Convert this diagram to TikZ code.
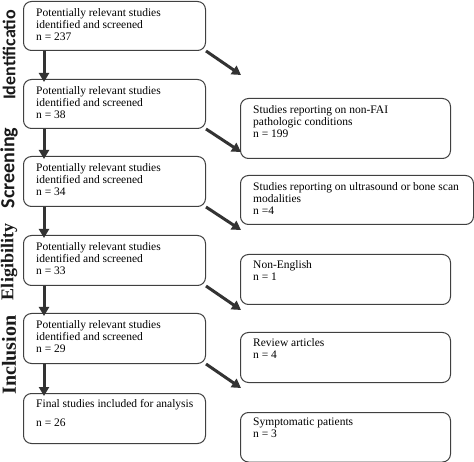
\documentclass[tikz,border=0pt]{standalone}
\usepackage{fontspec}
\setmainfont{Liberation Serif}
\newfontfamily\sidesans{Carlito}
\usetikzlibrary{arrows.meta}
\begin{document}
\begin{tikzpicture}[x=1pt,y=-1pt,
  box/.style={draw=black!75, line width=1pt, rounded corners=8pt, inner sep=0pt},
  txt/.style={anchor=north west, inner sep=0pt, align=left, font=\fontsize{11.5}{12}\selectfont, text=black},
  arr/.style={draw=black!80, line width=3pt, -{Triangle[length=9pt,width=10pt]}},
  sidelab/.style={rotate=90, inner sep=0pt, text=black!90}
]
\useasboundingbox (0,0) rectangle (474,462);
\fill[white] (0,0) rectangle (474,462);

% left boxes
\node[box, minimum width=182pt, minimum height=49pt, anchor=north west] (b1) at (23,1) {};
\node[box, minimum width=182pt, minimum height=49pt, anchor=north west] (b2) at (23,79) {};
\node[box, minimum width=182pt, minimum height=50pt, anchor=north west] (b3) at (23,156) {};
\node[box, minimum width=182pt, minimum height=50pt, anchor=north west] (b4) at (23,235) {};
\node[box, minimum width=182pt, minimum height=50pt, anchor=north west] (b5) at (23,313) {};
\node[box, minimum width=182pt, minimum height=50pt, anchor=north west] (b6) at (23,393) {};

\node[txt] (t1) at (36,8) {Potentially relevant studies\\identified and screened\\n = 237};
\node[txt] (t2) at (36,86) {Potentially relevant studies\\identified and screened\\n = 38};
\node[txt] (t3) at (36,163) {Potentially relevant studies\\identified and screened\\n = 34};
\node[txt] (t4) at (36,242) {Potentially relevant studies\\identified and screened\\n = 33};
\node[txt] (t5) at (36,320) {Potentially relevant studies\\identified and screened\\n = 29};
\node[txt] (t6) at (36,399) {Final studies included for analysis\\[7pt]n = 26};

% right boxes
\node[box, minimum width=210pt, minimum height=60pt, anchor=north west] (r1) at (240,98) {};
\node[box, minimum width=233pt, minimum height=49pt, anchor=north west] (r2) at (240,175) {};
\node[box, minimum width=210pt, minimum height=50pt, anchor=north west] (r3) at (240,254) {};
\node[box, minimum width=210pt, minimum height=50pt, anchor=north west] (r4) at (240,332) {};
\node[box, minimum width=210pt, minimum height=49.5pt, anchor=north west] (r5) at (240,412) {};

\node[txt] (s1) at (253,105) {Studies reporting on non-FAI\\pathologic conditions\\n = 199};
\node[txt] (s2) at (253,182) {Studies reporting on ultrasound or bone scan\\modalities\\n =4};
\node[txt] (s3) at (253,260) {Non-English\\n = 1};
\node[txt] (s4) at (253,338) {Review articles\\n = 4};
\node[txt] (s5) at (253,418) {Symptomatic patients\\n = 3};

% down arrows
\draw[arr] ([xshift=21pt]b1.south west) -- ([xshift=21pt,yshift=-3pt]b2.north west);
\draw[arr] ([xshift=21pt]b2.south west) -- ([xshift=21pt,yshift=-3pt]b3.north west);
\draw[arr] ([xshift=21pt]b3.south west) -- ([xshift=21pt,yshift=-3pt]b4.north west);
\draw[arr] ([xshift=21pt]b4.south west) -- ([xshift=21pt,yshift=-3pt]b5.north west);
\draw[arr] ([xshift=21pt]b5.south west) -- ([xshift=21pt,yshift=-3pt]b6.north west);

% diagonal arrows
\coordinate (e1) at (241,75);
\coordinate (e2) at (241,152);
\coordinate (e3) at (241,230);
\coordinate (e4) at (241,310);
\coordinate (e5) at (241,388);
\draw[arr] (b1.south east) -- (e1);
\draw[arr] (b2.south east) -- (e2);
\draw[arr] (b3.south east) -- (e3);
\draw[arr] (b4.south east) -- (e4);
\draw[arr] (b5.south east) -- (e5);

% side labels
\node[sidelab, font=\sidesans\bfseries\fontsize{18}{18}\selectfont] (l1) at (9,55) {Identificatio};
\node[sidelab, font=\sidesans\bfseries\fontsize{20}{20}\selectfont] (l2) at (9,168) {Screening};
\node[sidelab, font=\bfseries\fontsize{18}{18}\selectfont] (l3) at (9,262) {Eligibility};
\node[sidelab, font=\bfseries\fontsize{20}{20}\selectfont] (l4) at (9,355) {Inclusion};
\end{tikzpicture}
\end{document}
